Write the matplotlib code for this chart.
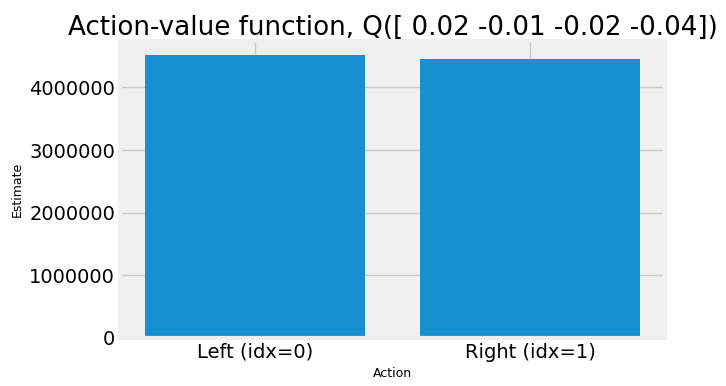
import matplotlib
matplotlib.use("Agg")
import matplotlib.pyplot as plt

plt.style.use("fivethirtyeight")

actions = ["Left (idx=0)", "Right (idx=1)"]
estimates = [4520000, 4450000]
title = "Action-value function, Q([ 0.02 -0.01 -0.02 -0.04])"

fig = plt.figure(figsize=(7.26, 3.86), dpi=100)
fig.patch.set_facecolor("white")
ax = fig.add_axes([0.1653, 0.1244, 0.751, 0.770])
ax.bar(actions, estimates, color="#188fce")
ax.set_title(title, fontsize=18.8, pad=3)
ax.set_xlabel("Action", fontsize=9)
ax.set_ylabel("Estimate", fontsize=9)
ax.ticklabel_format(axis="y", style="plain")
ax.tick_params(labelsize=14)
fig.savefig("out.png", dpi=100, facecolor="white")
